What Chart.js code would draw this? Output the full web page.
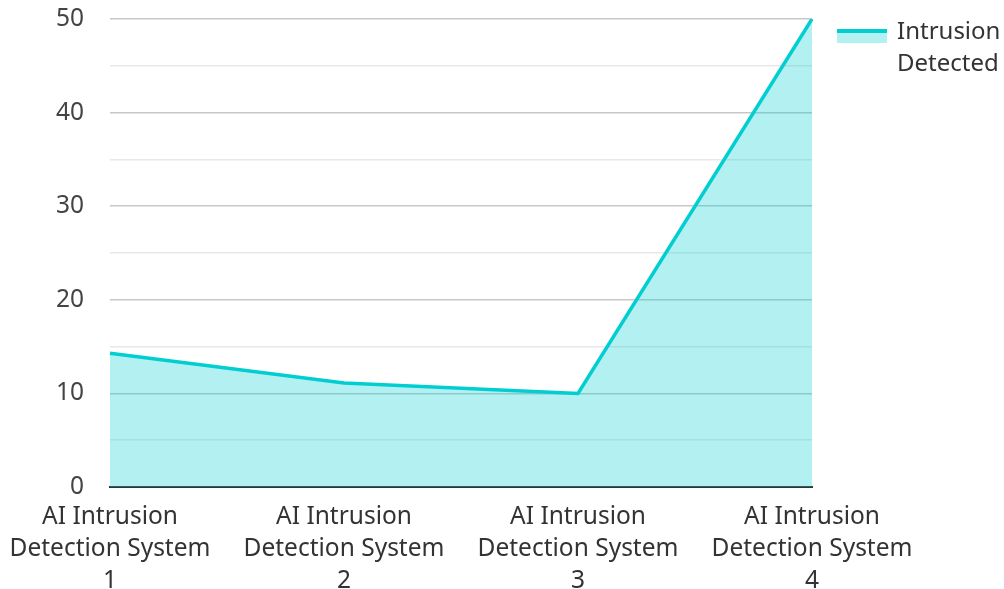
<!DOCTYPE html>
<html>
<head>
<meta charset="utf-8">
<script src="https://cdn.jsdelivr.net/npm/chart.js@4.4.1/dist/chart.umd.min.js"></script>
<style>
  html, body { margin: 0; padding: 0; background: #fff; }
  #wrap { width: 1004px; height: 589px; position: relative; }
</style>
</head>
<body>
<div id="wrap"><canvas id="myChart"></canvas></div>
<script>
const CATEGORIES = [
  ['AI Intrusion', 'Detection System', '1'],
  ['AI Intrusion', 'Detection System', '2'],
  ['AI Intrusion', 'Detection System', '3'],
  ['AI Intrusion', 'Detection System', '4']
];
const SERIES_NAME = ['Intrusion', 'Detected'];
const INTRUSIONS = [14.3, 11.1, 10.0, 50];
const Y_TICKS = [0, 10, 20, 30, 40, 50];

const LINE_COLOR = '#00CED1';
const FILL_COLOR = 'rgba(0, 206, 209, 0.3)';
const FONT = "'Noto Sans', sans-serif";

// legend drawn by hand so the label can wrap onto two lines
const SIDE_LEGEND = {
  id: 'sideLegend',
  afterDraw(chart) {
    const { ctx, chartArea } = chart;
    const x0 = chartArea.right + 25;
    const y0 = 31;
    ctx.save();
    ctx.fillStyle = FILL_COLOR;
    ctx.fillRect(x0, y0, 50, 12);
    ctx.strokeStyle = LINE_COLOR;
    ctx.lineWidth = 4;
    ctx.beginPath();
    ctx.moveTo(x0, y0);
    ctx.lineTo(x0 + 50, y0);
    ctx.stroke();
    ctx.fillStyle = '#333';
    ctx.font = `24px ${FONT}`;
    ctx.textBaseline = 'middle';
    SERIES_NAME.forEach((line, i) => {
      ctx.fillText(line, x0 + 60, y0 + 1 + i * 32);
    });
    ctx.restore();
  }
};

const CONFIG = {
  type: 'line',
  data: {
    labels: CATEGORIES,
    datasets: [{
      label: SERIES_NAME.join(' '),
      data: INTRUSIONS,
      borderColor: LINE_COLOR,
      backgroundColor: FILL_COLOR,
      borderWidth: 3.5,
      fill: 'origin',
      tension: 0,
      pointRadius: 0,
      pointHoverRadius: 0
    }]
  },
  options: {
    responsive: true,
    maintainAspectRatio: false,
    animation: false,
    layout: { padding: { top: 19, right: 192, left: 0, bottom: 0 } },
    plugins: {
      legend: { display: false },
      tooltip: { enabled: false }
    },
    scales: {
      x: {
        offset: false,
        grid: { display: false, drawTicks: false },
        border: { display: true, color: '#333', width: 2 },
        ticks: {
          color: '#333',
          font: { family: FONT, size: 24.5, lineHeight: 1.3 },
          padding: 14,
          maxRotation: 0,
          autoSkip: false
        },
        afterFit(scale) {
          scale.height = 102;
          scale.paddingLeft = 0;
          scale.paddingRight = 0;
        }
      },
      y: {
        min: 0,
        max: 50,
        grid: {
          drawTicks: false,
          lineWidth: 1.5,
          color: ctx => (ctx.tick && ctx.tick.value % 10 === 0) ? '#c8c8c8' : '#e8e8e8'
        },
        border: { display: false },
        ticks: {
          stepSize: 5,
          color: '#444',
          padding: 26,
          font: { family: FONT, size: 24.5 },
          callback: v => Y_TICKS.includes(v) ? v : ''
        },
        afterFit(scale) {
          scale.width = 110;
          scale.paddingTop = 0;
          scale.paddingBottom = 0;
        }
      }
    }
  },
  plugins: [SIDE_LEGEND]
};

const MY_CHART = new Chart(document.getElementById('myChart'), CONFIG);
</script>
</body>
</html>
